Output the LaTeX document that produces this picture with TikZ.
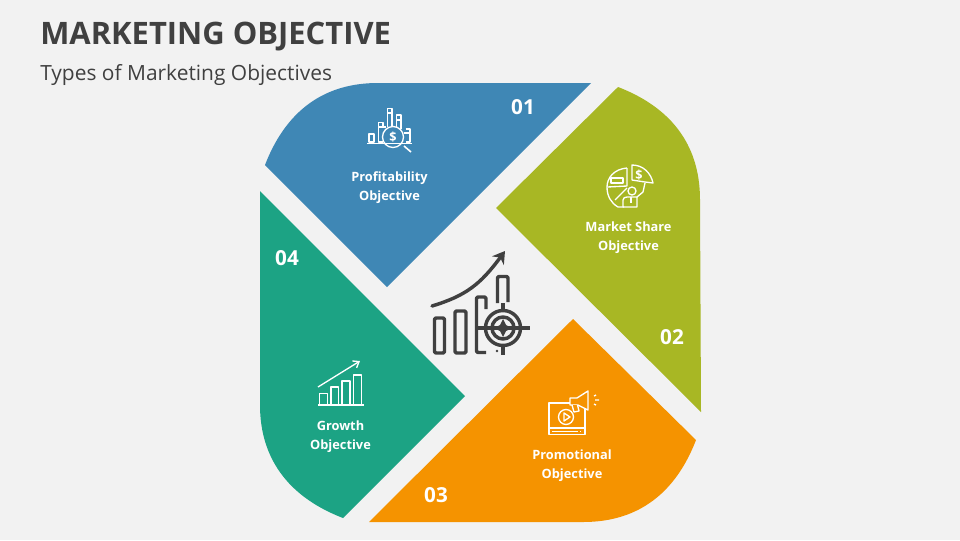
\documentclass[tikz,border=0pt]{standalone}
\usepackage{fontspec}
\setmainfont{Open Sans}
\usetikzlibrary{arrows.meta}
\definecolor{bgc}{HTML}{F2F2F2}
\definecolor{inkc}{HTML}{404040}
\definecolor{bluec}{HTML}{3F87B5}
\definecolor{greenc}{HTML}{A8B724}
\definecolor{orangec}{HTML}{F59300}
\definecolor{tealc}{HTML}{1CA384}
\tikzset{
  lbl/.style={text=white, font=\fontsize{9.6}{14.2}\selectfont\bfseries, align=center, inner sep=0},
  num/.style={text=white, font=\fontsize{15.5}{18}\selectfont\bfseries, inner sep=0},
  ico/.style={draw=white, line width=1pt, line join=round},
  big/.style={draw=inkc, line width=2.6pt, line join=round, rounded corners=1pt}
}
\begin{document}
\begin{tikzpicture}[x=0.75pt,y=-0.75pt]
\useasboundingbox (0,0) rectangle (960,540);
\fill[bgc] (0,0) rectangle (960,540);
\node[anchor=west, inner sep=0, text=inkc, font=\fontsize{23.2}{30}\selectfont\bfseries] (title) at (40,37){MARKETING OBJECTIVE};
\node[anchor=west, inner sep=0, text=inkc, font=\fontsize{15.7}{18}\selectfont] (subtitle) at (40,75){Types of Marketing Objectives};
\fill[bluec] (591,83) -- (378,83) .. controls (342,83) and (292,95) .. (265,165) -- (387,287) -- cycle;
\fill[greenc] (618,87) .. controls (688,114) and (700,164) .. (700,200) -- (701,412) -- (496,208) -- cycle;
\fill[orangec] (573,319) -- (696,440) .. controls (669,510) and (619,522) .. (583,522) -- (369,522) -- cycle;
\fill[tealc] (260,191) -- (465,396) -- (343,518) .. controls (273,491) and (260,441) .. (260,405) -- cycle;
\node[num] (n1) at (523,107.5){01};
\node[num] (n2) at (672,337.5){02};
\node[num] (n3) at (436,495.5){03};
\node[num] (n4) at (287,258.5){04};
\node[lbl] (l1) at (389.5,187.5){Profitability\\Objective};
\node[lbl] (l2) at (628.5,237.5){Market Share\\Objective};
\node[lbl] (l3) at (572,465.5){Promotional\\Objective};
\node[lbl] (l4) at (340.5,436.5){Growth\\Objective};
\draw[ico] (367,143.5) -- (412,143.5);
\draw[ico] (369,134) rectangle (374,142);
\draw[ico] (383,127) -- (383,122.5) -- (378.5,122.5) -- (378.5,142) -- (383,142) (378.5,127) -- (386,127);
\draw[ico] (387.5,127) -- (387.5,108.5) -- (392,108.5) -- (392,125.5) (387.5,113) -- (392,113);
\draw[ico] (396.5,127) -- (396.5,115) -- (401,115) -- (401,129) (396.5,120) -- (401,120);
\draw[ico] (405.5,129) -- (410,129) -- (410,142) -- (405.5,142) (404,133) -- (410,133);
\draw[ico] (393,137) circle (10.5);
\draw[ico, line width=1.2pt] (404,146) -- (411,152);
\node[text=white, inner sep=0, font=\fontsize{9.5}{9}\selectfont\bfseries] (dollar) at (393,137){\$};
\draw[ico] (627,168) .. controls (614,169) and (607,178) .. (607,187) .. controls (607,196) and (611,203) .. (618,207) -- (624,207);
\draw[ico] (627,168) -- (627,186) -- (607.5,187) (627,188) -- (615,200);
\draw[ico] (611,178) rectangle (623,183);
\draw[ico] (632,165) .. controls (643,165) and (651,173) .. (653,183) -- (645,182) -- (632,180) -- cycle;
\node[text=white, inner sep=0, font=\fontsize{9.5}{9}\selectfont\bfseries] (dollar2) at (639,175){\$};
\draw[ico] (632,191) circle (4);
\draw[ico] (645,183) -- (643,192) -- (637,197) -- (637,207) -- (623,207) -- (623,200) .. controls (623,198) and (625,197) .. (627,197) -- (637,197);
\draw[ico] (631,197) -- (631,203);
\draw[ico] (549,403) rectangle (585,434.5);
\draw[ico] (549,428) -- (585,428);
\draw[ico] (552,431.5) -- (578,431.5) (580,431.5) -- (581,431.5);
\draw[ico] (566,417) circle (7.5);
\draw[ico] (564,413) -- (570,417) -- (564,421) -- cycle;
\draw[fill=orangec, ico] (570,398) -- (577,398) -- (588,391) -- (588,410) -- (578,405) -- (570,405) -- cycle;
\draw[fill=orangec, ico] (572,405) -- (574,412) -- (579,411) -- (577.5,405);
\draw[ico] (594,396) -- (596,395) (595,400) -- (599,400) (594,404) -- (596,405);
\draw[ico] (318,405) -- (364,405);
\draw[ico] (319.5,405) -- (319.5,393.5) -- (327.5,393.5) -- (327.5,405);
\draw[ico] (331,405) -- (331,387) -- (338.5,387) -- (338.5,405);
\draw[ico] (342,405) -- (342,381) -- (350,381) -- (350,405);
\draw[ico] (353.5,405) -- (353.5,375) -- (361.5,375) -- (361.5,405);
\draw[ico, -{Straight Barb[length=4pt,width=6pt]}] (318,387) -- (360,361);
\draw[big] (434.5,318) rectangle (444.5,353);
\draw[big] (455,311) rectangle (466,353);
\draw[big] (486,352.5) -- (476.5,352.5) -- (476.5,297) -- (486,297) -- (486,309);
\draw[big] (497.5,303) -- (497.5,276.5) -- (508,276.5) -- (508,302);
\draw[line width=2.6pt, draw=inkc, line cap=round, -{Stealth[length=9pt,width=11pt]}] (432,306) .. controls (465,296) and (480,285) .. (505,251);
\draw[big] (503,328) circle (17.5);
\draw[big] (503,328) circle (11);
\draw[big] (478,328) -- (530,328);
\draw[big] (503,303) -- (503,312) (503,344) -- (503,355);
\fill[inkc] (503,319) -- (506,325) -- (512,328) -- (506,331) -- (503,337) -- (500,331) -- (494,328) -- (500,325) -- cycle;
\fill[inkc] (497,351) circle (1.4);
\end{tikzpicture}
\end{document}
